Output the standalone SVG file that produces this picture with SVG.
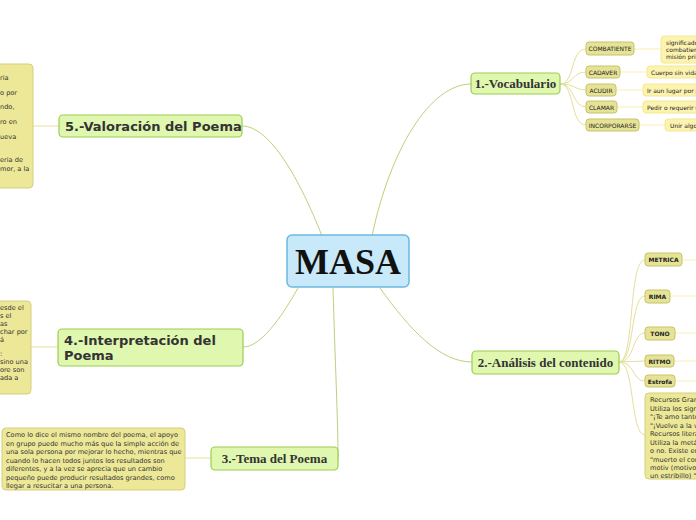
<svg xmlns="http://www.w3.org/2000/svg" width="696" height="520" viewBox="0 0 696 520">
<style>
.main{fill:#e0f7b0;stroke:#9ccc52;stroke-width:1.2}
.mt{font-family:"DejaVu Sans",sans-serif;font-weight:bold;font-size:13px;fill:#333}
.ms{font-family:"Liberation Serif",serif;font-weight:bold;font-size:13px;fill:#333}
.term{fill:#e6e296;stroke:#c8c36a;stroke-width:1}
.tt{font-family:"DejaVu Sans",sans-serif;font-size:6px;fill:#222}
.tb{font-family:"DejaVu Sans",sans-serif;font-size:6px;font-weight:bold;fill:#222}
.note{fill:#ece897;stroke:#d3cf7c;stroke-width:1}
.def{fill:#fdf3b0;stroke:#f5e890;stroke-width:1}
.nt{font-family:"DejaVu Sans",sans-serif;font-size:6.6px;fill:#333}
.c{fill:none;stroke:#b9d37a;stroke-width:1}
.c2{fill:none;stroke:#e4e09a;stroke-width:1}
.c3{fill:none;stroke:#f7efb0;stroke-width:1.2}
</style>
<g id="connectors">
<path class="c" d="M372,236 C390,150 430,84 471,84"/>
<path class="c" d="M380,288 C410,330 440,362 472,362"/>
<path class="c" d="M333,288 C335,360 338,420 338,458"/>
<path class="c" d="M298,288 C280,320 260,347 243,347"/>
<path class="c" d="M322,236 C300,180 270,126 242,126"/>
<path class="c2" d="M33,126 L59,126"/>
<path class="c2" d="M31,347 L58,347"/>
<path class="c2" d="M185,458 L211,458"/>
<path class="c2" d="M560,84 C575,84 570,49 586,49"/>
<path class="c2" d="M560,84 C575,84 572,72 586,72"/>
<path class="c2" d="M560,84 C575,84 575,90 586,90"/>
<path class="c2" d="M560,84 C575,84 572,107 586,107"/>
<path class="c2" d="M560,84 C575,84 570,125 586,125"/>
<path class="c3" d="M634,49 L661,49 M620,72 L647,72 M616,90 L643,90 M617,107 L643,107 M639,125 L665,125"/>
<path class="c2" d="M619,362 C635,362 628,260 645,260"/>
<path class="c2" d="M619,362 C635,362 630,296 645,296"/>
<path class="c2" d="M619,362 C635,362 632,333 645,333"/>
<path class="c2" d="M619,362 L645,361"/>
<path class="c2" d="M619,362 C635,362 632,381 645,381"/>
<path class="c2" d="M619,362 C635,362 630,435 645,435"/>
<path class="c3" d="M682,260 L696,260 M670,296 L696,296 M675,333 L696,333 M674,361 L696,361 M675,381 L696,381"/>
</g>
<g id="center">
<rect x="287" y="235" width="122" height="52" rx="5" fill="#c7e9f9" stroke="#6cb8e0" stroke-width="1.5"/>
<text x="348" y="274" text-anchor="middle" font-family="Liberation Serif,serif" font-weight="bold" font-size="36" fill="#111">MASA</text>
</g>
<g id="vocabulario">
<rect class="main" x="471" y="73" width="89" height="21" rx="4"/>
<text class="ms" x="515.5" y="88" text-anchor="middle">1.-Vocabulario</text>
</g>
<g id="analisis">
<rect class="main" x="472" y="351" width="147" height="23" rx="4"/>
<text class="ms" x="545.5" y="367" text-anchor="middle">2.-Análisis del contenido</text>
</g>
<g id="tema">
<rect class="main" x="211" y="447" width="127" height="23" rx="4"/>
<text class="ms" x="274.5" y="463" text-anchor="middle">3.-Tema del Poema</text>
</g>
<g id="interpretacion">
<rect class="main" x="58" y="329" width="185" height="37" rx="4"/>
<text class="mt" x="64" y="345">4.-Interpretación del</text>
<text class="mt" x="64" y="360">Poema</text>
</g>
<g id="valoracion">
<rect class="main" x="59" y="115" width="183" height="22" rx="4"/>
<text class="mt" x="65" y="131">5.-Valoración del Poema</text>
</g>
<g id="nota-valoracion">
<rect class="note" x="-10" y="64" width="43" height="124" rx="4"/>
<text class="nt"><tspan x="0" y="80">ria</tspan><tspan x="0" y="95">o por</tspan><tspan x="0" y="109">ndo,</tspan><tspan x="0" y="124">ro en</tspan><tspan x="0" y="139">ueva</tspan><tspan x="0" y="162">eria de</tspan><tspan x="0" y="171">mor, a la</tspan></text>
</g>
<g id="nota-interpretacion">
<rect class="note" x="-10" y="301" width="41" height="93" rx="4"/>
<text class="nt"><tspan x="0" y="310">esde el</tspan><tspan x="0" y="318">s el</tspan><tspan x="0" y="326">as</tspan><tspan x="0" y="334">char por</tspan><tspan x="0" y="342">á</tspan><tspan x="0" y="356">:</tspan><tspan x="0" y="364">sino una</tspan><tspan x="0" y="372">ore son</tspan><tspan x="0" y="380">ada a</tspan></text>
</g>
<g id="nota-tema">
<rect class="note" x="2" y="428" width="183" height="62" rx="4"/>
<text class="nt"><tspan x="6" y="437">Como lo dice el mismo nombre del poema, el apoyo</tspan><tspan x="6" y="445.5">en grupo puede mucho más que la simple acción de</tspan><tspan x="6" y="454">una sola persona por mejorar lo hecho, mientras que</tspan><tspan x="6" y="462.5">cuando lo hacen todos juntos los resultados son</tspan><tspan x="6" y="471">diferentes, y a la vez se aprecia que un cambio</tspan><tspan x="6" y="479.5">pequeño puede producir resultados grandes, como</tspan><tspan x="6" y="488">llegar a resucitar a una persona.</tspan></text>
</g>
<g id="combatiente"><rect class="term" x="586" y="42" width="48" height="13" rx="3"/><text class="tt" x="610" y="51" text-anchor="middle">COMBATIENTE</text></g>
<g id="cadaver"><rect class="term" x="586" y="66" width="34" height="12" rx="3"/><text class="tt" x="603" y="74.5" text-anchor="middle">CADAVER</text></g>
<g id="acudir"><rect class="term" x="586" y="84" width="30" height="12" rx="3"/><text class="tt" x="601" y="92.5" text-anchor="middle">ACUDIR</text></g>
<g id="clamar"><rect class="term" x="586" y="101" width="31" height="12" rx="3"/><text class="tt" x="601.5" y="109.5" text-anchor="middle">CLAMAR</text></g>
<g id="incorporarse"><rect class="term" x="586" y="119" width="53" height="12" rx="3"/><text class="tt" x="612.5" y="127.5" text-anchor="middle">INCORPORARSE</text></g>
<g id="def-combatiente"><rect class="def" x="661" y="36" width="45" height="27" rx="3"/><text class="tt"><tspan x="666" y="45">significado</tspan><tspan x="666" y="52">combatient</tspan><tspan x="666" y="59">misión prin</tspan></text></g>
<g id="def-cadaver"><rect class="def" x="647" y="66" width="60" height="12" rx="3"/><text class="tt" x="651" y="74.5">Cuerpo sin vida,</text></g>
<g id="def-acudir"><rect class="def" x="643" y="84" width="64" height="12" rx="3"/><text class="tt" x="647" y="92.5">Ir aun lugar por p</text></g>
<g id="def-clamar"><rect class="def" x="643" y="101" width="64" height="12" rx="3"/><text class="tt" x="647" y="109.5">Pedir o requerir u</text></g>
<g id="def-incorporarse"><rect class="def" x="665" y="119" width="40" height="12" rx="3"/><text class="tt" x="670" y="127.5">Unir algo</text></g>
<g id="metrica"><rect class="term" x="645" y="253" width="37" height="13" rx="3"/><text class="tb" x="663.5" y="262" text-anchor="middle">METRICA</text></g>
<g id="rima"><rect class="term" x="645" y="290" width="25" height="13" rx="3"/><text class="tb" x="657.5" y="299" text-anchor="middle">RIMA</text></g>
<g id="tono"><rect class="term" x="645" y="327" width="30" height="13" rx="3"/><text class="tb" x="660" y="336" text-anchor="middle">TONO</text></g>
<g id="ritmo"><rect class="term" x="645" y="355" width="29" height="12" rx="3"/><text class="tb" x="659.5" y="363.5" text-anchor="middle">RITMO</text></g>
<g id="estrofa"><rect class="term" x="645" y="375" width="30" height="12" rx="3"/><text class="tb" x="660" y="383.5" text-anchor="middle">Estrofa</text></g>
<g id="recursos"><rect class="note" x="645" y="393" width="60" height="86" rx="4"/><text class="nt"><tspan x="650" y="402">Recursos Gram</tspan><tspan x="650" y="410.5">Utiliza los sign</tspan><tspan x="650" y="419">"¡Te amo tanto</tspan><tspan x="650" y="427.5">"¡Vuelve a la v</tspan><tspan x="650" y="436">Recursos litera</tspan><tspan x="650" y="444.5">Utiliza la metá</tspan><tspan x="650" y="453">o no. Existe en</tspan><tspan x="650" y="461.5">"muerto el cor</tspan><tspan x="650" y="470">motiv (motivo</tspan><tspan x="650" y="478">un estribillo) "</tspan></text></g>
</svg>
